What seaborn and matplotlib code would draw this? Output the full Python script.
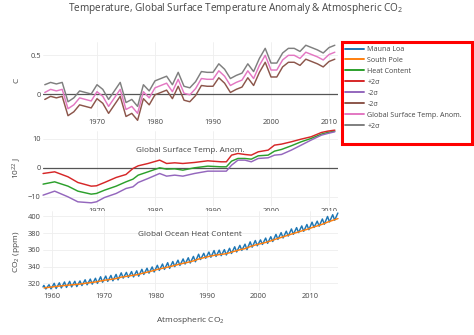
import numpy as np
import pandas as pd
import matplotlib
matplotlib.use("Agg")
import matplotlib.pyplot as plt
from matplotlib.lines import Line2D
from matplotlib.patches import Rectangle
import seaborn as sns

# ---------------- data ----------------
temp_years = list(range(1961, 2012))
temp_anom = [0.02, 0.06, 0.04, 0.06, -0.19, -0.14, -0.05, -0.07, -0.09, 0.03,
             -0.03, -0.16, -0.05, 0.06, -0.20, -0.16, -0.25, 0.03, -0.05, 0.08,
             0.11, 0.14, 0.03, 0.19, 0.01, -0.01, 0.07, 0.20, 0.19, 0.19,
             0.30, 0.23, 0.11, 0.15, 0.18, 0.30, 0.20, 0.37, 0.50, 0.31,
             0.31, 0.44, 0.50, 0.50, 0.46, 0.54, 0.51, 0.48, 0.44, 0.51, 0.54]
temp_upper = [0.12, 0.15, 0.13, 0.15, -0.10, -0.05, 0.04, 0.02, 0.00, 0.12,
              0.06, -0.07, 0.04, 0.15, -0.11, -0.07, -0.16, 0.12, 0.04, 0.17,
              0.20, 0.23, 0.12, 0.28, 0.10, 0.08, 0.16, 0.29, 0.28, 0.28,
              0.39, 0.32, 0.20, 0.24, 0.27, 0.39, 0.29, 0.46, 0.59, 0.40,
              0.40, 0.53, 0.59, 0.59, 0.55, 0.63, 0.60, 0.57, 0.53, 0.60, 0.63]
temp_lower = [-0.07, -0.03, -0.05, -0.03, -0.28, -0.23, -0.14, -0.16, -0.18, -0.06,
              -0.12, -0.25, -0.14, -0.03, -0.29, -0.25, -0.34, -0.06, -0.14, -0.01,
              0.02, 0.05, -0.06, 0.10, -0.08, -0.10, -0.02, 0.11, 0.10, 0.10,
              0.21, 0.14, 0.02, 0.06, 0.09, 0.21, 0.11, 0.28, 0.41, 0.22,
              0.22, 0.35, 0.41, 0.41, 0.37, 0.45, 0.42, 0.39, 0.35, 0.42, 0.45]

heat_years = [1960.7, 1962.7, 1965.0, 1966.7, 1969.0, 1969.9, 1971.3, 1973.3, 1975.0,
              1976.2, 1977.1, 1978.8, 1980.8, 1982.0, 1983.4, 1984.8, 1986.8, 1989.1,
              1991.4, 1992.3, 1993.2, 1994.3, 1995.5, 1996.6, 1997.8, 1999.5, 2000.6,
              2001.8, 2003.5, 2005.2, 2006.9, 2008.7, 2009.8, 2011.0]
heat_content = [-5.66, -4.86, -6.36, -8.09, -9.13, -8.90, -7.75, -6.36, -4.86,
                -3.93, -2.54, -1.39, 0.00, -0.46, -0.35, -0.81, 0.00, 0.58,
                0.35, 0.35, 2.31, 3.24, 3.24, 3.00, 4.16, 4.39, 5.78,
                6.36, 7.63, 9.02, 10.17, 11.68, 12.25, 12.72]
heat_upper = [-1.97, -1.39, -3.12, -5.09, -6.36, -6.24, -5.09, -3.35, -2.31,
              -0.23, 0.69, 1.50, 2.66, 1.50, 1.73, 1.50, 1.85, 2.43,
              2.08, 2.08, 4.39, 4.97, 4.62, 4.39, 5.55, 6.13, 7.86,
              8.21, 9.02, 9.94, 10.75, 12.25, 12.72, 13.06]
heat_lower = [-9.48, -8.09, -10.06, -11.79, -12.14, -11.79, -10.29, -8.90, -7.17,
              -6.59, -5.09, -3.70, -1.97, -2.89, -2.54, -2.89, -1.97, -1.16,
              -1.16, -1.16, 0.92, 2.66, 2.66, 2.08, 3.24, 3.47, 4.39,
              4.62, 6.13, 7.86, 9.60, 11.33, 11.91, 12.49]

co2_years = list(range(1958, 2016))
mauna_loa_may = [317.5, 318.3, 320.0, 320.6, 321.6, 322.3, 322.4, 322.8, 324.2, 325.0,
                 326.0, 327.8, 328.6, 329.4, 330.6, 332.5, 333.0, 334.0, 334.9, 336.7,
                 338.0, 339.5, 341.5, 343.0, 344.6, 346.0, 347.6, 349.1, 350.5, 352.1,
                 354.7, 355.8, 357.3, 359.1, 359.6, 360.2, 361.8, 363.6, 365.3, 366.7,
                 369.5, 371.1, 371.8, 374.0, 375.6, 378.4, 380.5, 382.2, 384.9, 386.5,
                 388.5, 390.2, 393.0, 394.2, 396.8, 399.8, 401.9, 403.9]
mauna_loa_sep = [313.2, 313.3, 313.8, 314.5, 315.1, 315.7, 316.1, 317.3, 318.2, 319.0,
                 319.9, 321.3, 322.3, 323.0, 324.1, 326.2, 327.0, 327.6, 328.5, 330.6,
                 332.1, 333.5, 335.4, 336.6, 337.8, 339.9, 341.3, 343.0, 344.2, 345.7,
                 348.4, 349.9, 351.1, 352.1, 353.0, 353.8, 355.6, 357.4, 359.3, 360.2,
                 363.1, 364.8, 366.4, 367.7, 369.9, 372.4, 374.1, 376.4, 378.5, 380.6,
                 382.1, 384.0, 386.7, 388.2, 390.5, 393.3, 395.3]
south_pole = [314.5, 315.2, 316.0, 316.7, 317.4, 318.0, 318.5, 319.1, 320.0, 320.8,
              321.6, 322.8, 323.9, 324.7, 325.7, 327.4, 328.3, 329.3, 330.2, 331.8,
              333.3, 334.8, 336.6, 338.0, 339.3, 340.8, 342.4, 343.9, 345.2, 346.8,
              349.0, 350.6, 352.1, 353.4, 354.3, 355.0, 356.5, 358.4, 360.1, 361.4,
              363.9, 365.8, 367.3, 368.8, 370.7, 372.9, 374.8, 376.8, 378.8, 380.7,
              382.6, 384.4, 386.6, 388.6, 390.6, 393.1, 395.2, 397.3]

legend_labels = ["Mauna Loa", "South Pole", "Heat Content", "+2σ", "-2σ", "-2σ",
                 "Global Surface Temp. Anom.", "+2σ"]

# ---------------- build tables ----------------
ml_t = [1958.2]
ml_v = [315.7]
for i, yr in enumerate(co2_years):
    ml_t.append(yr + 0.37)
    ml_v.append(mauna_loa_may[i])
    if i < len(mauna_loa_sep):
        ml_t.append(yr + 0.75)
        ml_v.append(mauna_loa_sep[i])
ml_df = pd.DataFrame({"t": ml_t, "v": ml_v})
sp_df = pd.DataFrame({"t": [y + 0.4 for y in co2_years], "v": south_pole})
temp_df = pd.DataFrame({"t": temp_years, "mid": temp_anom, "up": temp_upper, "lo": temp_lower})
heat_df = pd.DataFrame({"t": heat_years, "mid": heat_content, "up": heat_upper, "lo": heat_lower})

# ---------------- style ----------------
sns.set_theme(style="white")
plt.rcParams["font.family"] = ["Open Sans", "DejaVu Sans"]
plt.rcParams["mathtext.fontset"] = "custom"
plt.rcParams["mathtext.rm"] = "Open Sans"
plt.rcParams["mathtext.it"] = "Open Sans:italic"
plt.rcParams["mathtext.bf"] = "Open Sans:bold"

TXT = "#444444"
GRID = "#eeeeee"
C_BLUE, C_ORANGE, C_GREEN, C_RED = "#1f77b4", "#ff7f0e", "#2ca02c", "#d62728"
C_PURPLE, C_BROWN, C_PINK, C_GRAY = "#9467bd", "#8c564b", "#e377c2", "#7f7f7f"
LW = 1.05

W, H = 474, 335
fig = plt.figure(figsize=(W / 100, H / 100), dpi=100)


def rect(l, t, r, b):
    return [l / W, 1 - b / H, (r - l) / W, (b - t) / H]


ax1 = fig.add_axes(rect(43, 42, 338, 117))
ax2 = fig.add_axes(rect(43, 131, 338, 206))
ax3 = fig.add_axes(rect(43, 211, 338, 291))


def style(ax, xticks, yticks, ylabels=None):
    ax.set_facecolor("white")
    for s in ax.spines.values():
        s.set_visible(False)
    ax.set_xticks(xticks)
    ax.set_yticks(yticks)
    if ylabels is not None:
        ax.set_yticklabels(ylabels)
    ax.tick_params(axis="both", length=0, pad=1.6, labelsize=5.4, labelcolor=TXT)
    ax.grid(True, color=GRID, lw=0.6, zorder=0)
    ax.set_axisbelow(True)
    ax.set_xlabel("")
    ax.set_ylabel("")


def draw(ax, df, x, y, color):
    sns.lineplot(data=df, x=x, y=y, ax=ax, color=color, linewidth=LW,
                 legend=False, sort=False, estimator=None)
    ax.lines[-1].set_clip_on(False)


# top panel: temperature anomaly
ax1.axhline(0, color="#555555", lw=0.9, zorder=1)
draw(ax1, temp_df, "t", "lo", C_BROWN)
draw(ax1, temp_df, "t", "mid", C_PINK)
draw(ax1, temp_df, "t", "up", C_GRAY)
ax1.set_xlim(1960.69, 2011.55)
ax1.set_ylim(-0.297, 0.672)
style(ax1, [1970, 1980, 1990, 2000, 2010], [0, 0.5], ["0", "0.5"])

# middle panel: heat content
ax2.axhline(0, color="#555555", lw=0.9, zorder=1)
draw(ax2, heat_df, "t", "mid", C_GREEN)
draw(ax2, heat_df, "t", "up", C_RED)
draw(ax2, heat_df, "t", "lo", C_PURPLE)
ax2.set_xlim(1960.69, 2011.55)
ax2.set_ylim(-13.24, 12.76)
style(ax2, [1970, 1980, 1990, 2000, 2010], [-10, 0, 10], ["−10", "0", "10"])

# bottom panel: CO2
draw(ax3, ml_df, "t", "v", C_BLUE)
draw(ax3, sp_df, "t", "v", C_ORANGE)
ax3.set_xlim(1958.2, 2015.4)
ax3.set_ylim(310.8, 406.33)
style(ax3, [1960, 1970, 1980, 1990, 2000, 2010], [320, 340, 360, 380, 400])

# texts
def ftext(x, y, s, **kw):
    fig.text(x / W, 1 - y / H, s, color=TXT, ha="center", va="center", **kw)


ftext(236, 8, "Temperature, Global Surface Temperature Anomaly & Atmospheric CO$_2$", fontsize=7.2)
ftext(190, 150, "Global Surface Temp. Anom.", fontsize=5.9)
ftext(190, 235, "Global Ocean Heat Content", fontsize=5.9)
ftext(190, 321, "Atmospheric CO$_2$", fontsize=6.0)
ftext(17, 80, "C", fontsize=6.0, rotation=90)
ftext(17, 168, "10$^{22}$ J", fontsize=6.0, rotation=90)
ftext(17, 252, "CO$_2$ (ppm)", fontsize=6.0, rotation=90)

# legend box
box = Rectangle((342 / W, 1 - 144 / H), 130 / W, 102 / H, transform=fig.transFigure,
                facecolor="white", edgecolor="#ff0000", lw=2.2, zorder=5)
fig.patches.append(box)

colors = [C_BLUE, C_ORANGE, C_GREEN, C_RED, C_PURPLE, C_BROWN, C_PINK, C_GRAY]
handles = [Line2D([0], [0], color=c, lw=1.4) for c in colors]
leg = fig.legend(handles, legend_labels, loc="upper left",
                 bbox_to_anchor=(345 / W, 1 - 46 / H), frameon=False,
                 fontsize=5.1, handlelength=2.7, handletextpad=0.45,
                 labelspacing=0.56, borderpad=0, borderaxespad=0)
leg.set_zorder(6)
for t in leg.get_texts():
    t.set_color(TXT)

fig.savefig("out.png", dpi=100)
